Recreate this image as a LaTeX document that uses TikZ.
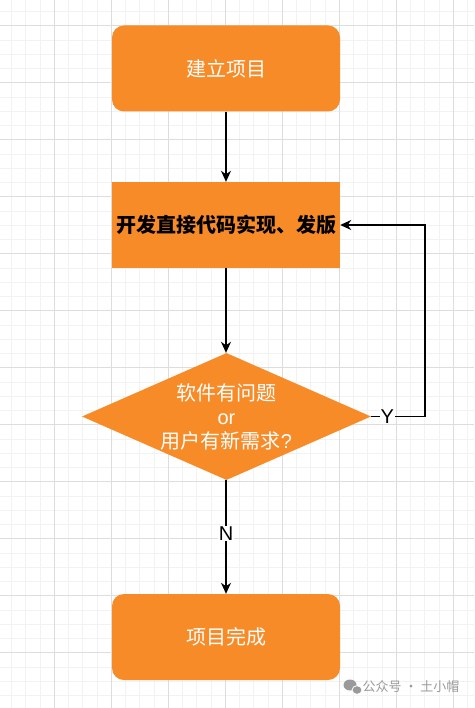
\documentclass[tikz,border=0pt]{standalone}
\usepackage{fontspec}
\setmainfont{Liberation Sans}
\newfontfamily\cjk{Noto Sans CJK SC}
\usetikzlibrary{shapes.geometric,arrows.meta}
\definecolor{orng}{HTML}{F78B28}
\definecolor{gridminor}{HTML}{F2F2F2}
\definecolor{gridmajor}{HTML}{DDDDDD}
\definecolor{wm}{HTML}{9A9A9A}
\begin{document}
\begin{tikzpicture}[x=1pt,y=-1pt,
  box/.style={fill=orng, minimum width=228pt, minimum height=86pt, inner sep=0pt, rounded corners=12pt, text=white, font=\cjk\fontsize{20}{24}\selectfont},
  sqbox/.style={box, rounded corners=0pt, text=black, font=\cjk\bfseries\fontsize{20}{24}\selectfont},
  decbox/.style={diamond, fill=orng, minimum width=289pt, minimum height=127pt, inner sep=0pt},
  dectext/.style={text=white, align=center, inner sep=0pt, font=\cjk\fontsize{20}{24}\selectfont},
  flow/.style={line width=1.4pt, -{Stealth[length=11pt,width=10pt,inset=3.5pt]}},
  lbl/.style={fill=white, inner sep=0.6pt, font=\fontsize{20}{24}\selectfont},
  minorline/.style={gridminor, line width=0.7pt},
  majorline/.style={gridmajor, line width=0.8pt}]
\useasboundingbox (0,0) rectangle (474,708);
\fill[white] (0,0) rectangle (474,708);
% grid
\foreach \i in {0,...,34} \draw[minorline] ({-2.7+14.25*\i},0) -- ({-2.7+14.25*\i},708);
\foreach \i in {0,...,50} \draw[minorline] (0,{-2.8+14.25*\i}) -- (474,{-2.8+14.25*\i});
\foreach \k in {0,...,8} \draw[majorline] ({-2.7+57*\k},0) -- ({-2.7+57*\k},708);
\foreach \k in {0,...,12} \draw[majorline] (0,{25.7+57*\k}) -- (474,{25.7+57*\k});
% nodes
\node[box] (b1) at (226,68.5) {建立项目};
\node[sqbox] (b2) at (226,225) {开发直接代码实现、发版};
\node[decbox] (dec) at (226.5,416.5) {};
\node[dectext] (dtxt) at (226.5,417) {软件有问题\\{\fontspec{Liberation Sans}or}\\用户有新需求{\fontspec{Liberation Sans}?}};
\node[box] (b4) at (226,637) {项目完成};
\coordinate (yc) at (425,416.5);
% connectors
\draw[flow] (b1) -- (b2);
\draw[flow] (b2.south) -- (b2.south |- dec.north);
\draw[flow] (dec.south -| b4.north) -- node[lbl,pos=0.47]{N} (b4.north);
\draw[flow] (dec.east) -- node[lbl,pos=0.3]{Y} (yc) |- (b2.east);
% watermark
\fill[wm] (350,685) ellipse (6.5pt and 5.5pt);
\fill[wm,draw=white,line width=0.8pt] (357,690) ellipse (5pt and 4.3pt);
\node[text=wm, inner sep=0pt, font=\cjk\fontsize{13}{15}\selectfont] (wmtext) at (411,687) {公众号 · 土小帽};
\end{tikzpicture}
\end{document}
